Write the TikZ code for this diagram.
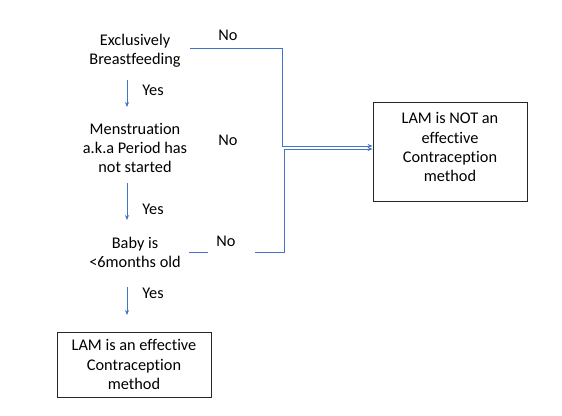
\documentclass[tikz,border=0pt]{standalone}
\usepackage{fontspec}
\setmainfont[Ligatures={NoCommon}]{Carlito}
\usetikzlibrary{arrows.meta}
\definecolor{lineblue}{RGB}{68,114,196}
\begin{document}
\begin{tikzpicture}[x=1pt,y=-1pt,
  lbl/.style={font=\fontsize{16.3}{19.2}\selectfont, align=center, inner sep=0pt},
  box/.style={lbl, draw=black!85, line width=0.8pt, minimum width=154pt},
  conn/.style={draw=lineblue, line width=0.9pt},
  arr/.style={conn, -{Stealth[length=5pt,width=4pt]}}]
\useasboundingbox (0,0) rectangle (562,415);
% decision texts
\node[lbl] (ex) at (135,51) {Exclusively\\Breastfeeding};
\node[lbl] (me) at (135,148) {Menstruation\\a.k.a Period has\\not started};
\node[lbl] (ba) at (135,252) {Baby is\\<6months old};
% boxes
\node[box, minimum height=65pt] (yesbox) at (134,364.5) {LAM is an effective\\Contraception\\method};
\node[box, minimum height=99pt, text depth=9pt] (nobox) at (450,151.5) {LAM is NOT an\\effective\\Contraception\\method};
% labels
\node[lbl] (no1) at (228,35) {No};
\node[lbl] (no2) at (228,140) {No};
\node[lbl] (no3) at (226,241) {No};
\node[lbl] (y1) at (153,90) {Yes};
\node[lbl] (y2) at (153,209) {Yes};
\node[lbl] (y3) at (153,293) {Yes};
% connector points
\coordinate (a1s) at (127,80);
\coordinate (a1e) at (127,107);
\coordinate (a2s) at (127,183);
\coordinate (a2e) at (127,220);
\coordinate (a3s) at (127,287);
\coordinate (a3e) at (127,315);
\coordinate (n1s) at (190,48);
\coordinate (n1c) at (282,146);
\coordinate (n3a) at (189,252);
\coordinate (n3b) at (208,252);
\coordinate (n3s) at (255,252);
\coordinate (n3c) at (284,149);
% connectors
\draw[arr] (a1s) -- (a1e);
\draw[arr] (a2s) -- (a2e);
\draw[arr] (a3s) -- (a3e);
\draw[arr] (n1s) -| (n1c) -- ([yshift=5.5pt]nobox.west);
\draw[conn] (n3a) -- (n3b);
\draw[arr] (n3s) -| (n3c) -- ([yshift=2.5pt]nobox.west);
\end{tikzpicture}
\end{document}
